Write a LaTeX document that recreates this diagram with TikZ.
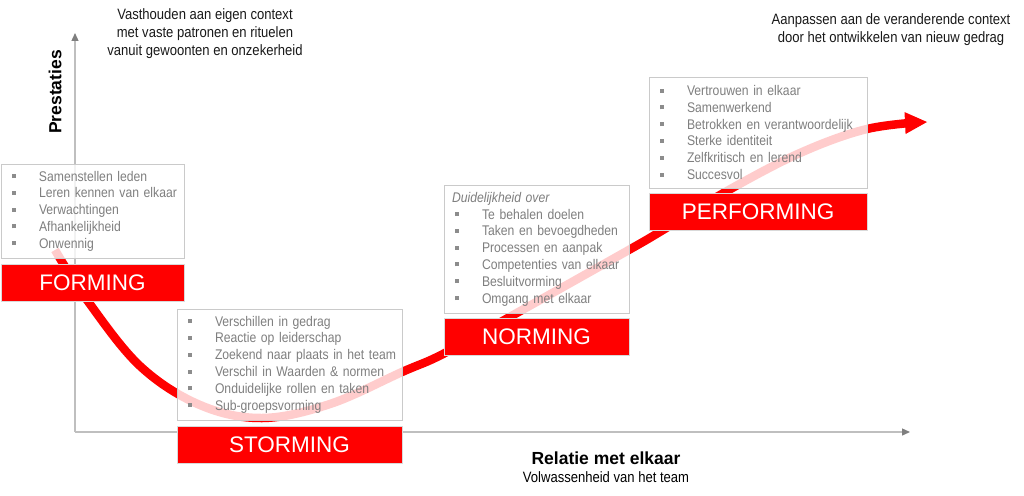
\documentclass[tikz,border=0pt]{standalone}
\usepackage{fontspec}
\setmainfont[FakeStretch=0.87]{Liberation Sans}
\newfontfamily\widefont{Liberation Sans}
\usetikzlibrary{arrows.meta, positioning}
\definecolor{phasered}{HTML}{FF0000}
\definecolor{txtgray}{HTML}{7F7F7F}
\definecolor{bulgray}{HTML}{8C8C8C}
\definecolor{boxgray}{HTML}{CACACA}
\definecolor{axisgray}{HTML}{BFBFBF}
\newcommand{\itm}[1]{\mbox{\makebox[27pt][l]{\textcolor{bulgray}{\rule[3pt]{4pt}{4pt}}}#1}}

\begin{document}
\begin{tikzpicture}[x=1pt, y=-1pt,
  list/.style={draw=boxgray, fill=white, fill opacity=.8, text opacity=1,
               line width=.9pt, anchor=north west, align=left, inner xsep=11pt,
               inner ysep=0pt, outer sep=0pt, text=txtgray,
               font=\fontsize{14}{16.8}\selectfont},
  phase/.style={draw=black!15, fill=phasered, text=white, line width=.9pt,
                minimum height=37pt, inner sep=0pt, outer sep=0pt,
                font=\widefont\fontsize{22.5}{24}\selectfont},
  toptxt/.style={align=center, text=black!90, font=\fontsize{15}{18}\selectfont},
  axis/.style={draw=axisgray, line width=1.3pt,
               -{Triangle[length=8pt, width=7pt, color=txtgray]}},
  curve/.style={draw=phasered, line width=8.5pt,
                -{Triangle[length=22pt, width=22pt, line width=0pt]}},
  node distance=6pt]

\useasboundingbox (0,0) rectangle (1024,495);

\coordinate (origin) at (75,432);
\coordinate (ytop) at (75,33);
\coordinate (xend) at (910,432);
\draw[axis] (origin) -- (ytop);
\draw[axis] (origin) -- (xend);

\node[rotate=90, font=\widefont\bfseries\fontsize{17.5}{20}\selectfont] (ylab) at (55,92) {Prestaties};
\node[anchor=base, font=\widefont\bfseries\fontsize{17.5}{20}\selectfont] (xlab) at (606,464) {Relatie met elkaar};
\node[anchor=base, font=\fontsize{15}{18}\selectfont] (xsub) at (606,482) {Volwassenheid van het team};

\node[toptxt] (keep) at (205,34) {Vasthouden aan eigen context\\met vaste patronen en rituelen\\vanuit gewoonten en onzekerheid};
\node[toptxt] (adapt) at (891,30) {Aanpassen aan de veranderende context\\door het ontwikkelen van nieuw gedrag};

\draw[curve] plot[smooth, tension=.6] coordinates {(55,250) (87,300) (140,366) (200,405) (262,418) (330,404) (402,372) (443,354) (515,314) (627,251) (663,230) (727,191) (800,153) (867,129) (927,122)};

\node[list, text width=161pt, minimum height=94pt] (formlist) at (1,164)
  {\itm{Samenstellen leden}\\\itm{Leren kennen van elkaar}\\\itm{Verwachtingen}\\\itm{Afhankelijkheid}\\\itm{Onwennig}};
\node[list, text width=203pt, minimum height=111pt] (stormlist) at (177,309)
  {\itm{Verschillen in gedrag}\\\itm{Reactie op leiderschap}\\\itm{Zoekend naar plaats in het team}\\\itm{Verschil in Waarden \& normen}\\\itm{Onduidelijke rollen en taken}\\\itm{Sub-groepsvorming}};
\node[list, text width=163pt, minimum height=128pt] (normlist) at (444,185)
  {\hspace*{-3pt}\textit{Duidelijkheid over}\\\itm{Te behalen doelen}\\\itm{Taken en bevoegdheden}\\\itm{Processen en aanpak}\\\itm{Competenties van elkaar}\\\itm{Besluitvorming}\\\itm{Omgang met elkaar}};
\node[list, text width=196pt, minimum height=111pt] (perflist) at (649,77)
  {\itm{Vertrouwen in elkaar}\\\itm{Samenwerkend}\\\itm{Betrokken en verantwoordelijk}\\\itm{Sterke identiteit}\\\itm{Zelfkritisch en lerend}\\\itm{Succesvol}};

\node[phase, minimum width=183pt, below=of formlist] (forming) {FORMING};
\node[phase, minimum width=225pt, below=of stormlist] (storming) {STORMING};
\node[phase, minimum width=185pt, below=5pt of normlist] (norming) {NORMING};
\node[phase, minimum width=218pt, below=5pt of perflist] (performing) {PERFORMING};
\end{tikzpicture}
\end{document}
